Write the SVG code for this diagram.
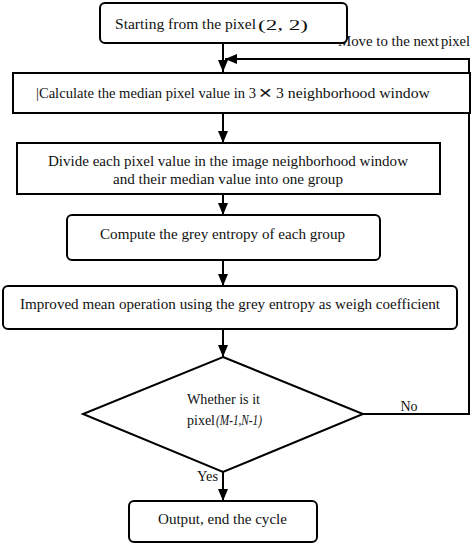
<svg xmlns="http://www.w3.org/2000/svg" width="474" height="544" viewBox="0 0 474 544">
<style>
.box{fill:#fff;stroke:#000;stroke-width:2}
.t{font-family:"Liberation Serif","Times New Roman",serif;font-size:14px;fill:#111}
.ln{fill:none;stroke:#000;stroke-width:2}
</style>
<defs>
<marker id="ah" viewBox="0 0 12 10" refX="12" refY="5" markerWidth="12" markerHeight="10" markerUnits="userSpaceOnUse" orient="auto">
<path d="M0,0 L12,5 L0,10 Z" fill="#000"/>
</marker>
</defs>
<rect width="474" height="544" fill="#fff"/>
<g id="connectors">
<line class="ln" x1="223" y1="43" x2="223" y2="72" marker-end="url(#ah)"/>
<polyline class="ln" points="363,414 469,414 469,59 225,59" marker-end="url(#ah)"/>
<line class="ln" x1="223" y1="113" x2="223" y2="143" marker-end="url(#ah)"/>
<line class="ln" x1="223" y1="194" x2="223" y2="215" marker-end="url(#ah)"/>
<line class="ln" x1="223" y1="260" x2="223" y2="286" marker-end="url(#ah)"/>
<line class="ln" x1="223" y1="329" x2="223" y2="357" marker-end="url(#ah)"/>
<line class="ln" x1="223" y1="472" x2="223" y2="501" marker-end="url(#ah)"/>
<text class="t" x="409" y="411" text-anchor="middle">No</text>
<text class="t" x="197" y="481" textLength="21" lengthAdjust="spacingAndGlyphs">Yes</text>
<text class="t" x="338" y="46" font-size="13" textLength="101" lengthAdjust="spacingAndGlyphs">Move to the next</text>
<text class="t" x="441" y="46" font-size="16" textLength="29" lengthAdjust="spacingAndGlyphs">pixel</text>
</g>
<g id="start">
<rect class="box" x="100" y="3" width="247" height="40" rx="5"/>
<text class="t" x="115" y="29" textLength="141" lengthAdjust="spacingAndGlyphs">Starting from the pixel</text>
<text class="t" x="258" y="30" font-size="20" textLength="50" lengthAdjust="spacingAndGlyphs">(2, 2)</text>
</g>
<g id="median">
<rect class="box" x="13" y="73" width="457" height="40"/>
<text class="t" x="36" y="98" textLength="220" lengthAdjust="spacingAndGlyphs">|Calculate the median pixel value in 3</text>
<text class="t" x="258" y="98" font-size="15" font-family="'DejaVu Sans',sans-serif" textLength="15" lengthAdjust="spacingAndGlyphs">✕</text>
<text class="t" x="276" y="98" textLength="154" lengthAdjust="spacingAndGlyphs">3 neighborhood window</text>
</g>
<g id="divide">
<rect class="box" x="17" y="143" width="423" height="51"/>
<text class="t" x="48" y="166" textLength="360" lengthAdjust="spacingAndGlyphs">Divide each pixel value in the image neighborhood window</text>
<text class="t" x="113" y="184" textLength="230" lengthAdjust="spacingAndGlyphs">and their median value into one group</text>
</g>
<g id="entropy">
<rect class="box" x="67" y="215" width="313" height="45" rx="5"/>
<text class="t" x="100" y="239" textLength="245" lengthAdjust="spacingAndGlyphs">Compute the grey entropy of each group</text>
</g>
<g id="mean">
<rect class="box" x="3" y="286" width="454" height="43" rx="5"/>
<text class="t" x="20" y="309" textLength="420" lengthAdjust="spacingAndGlyphs">Improved mean operation using the grey entropy as weigh coefficient</text>
</g>
<g id="decision">
<polygon class="box" points="223,357 363,414 223,472 83,414"/>
<text class="t" x="187" y="404" textLength="73" lengthAdjust="spacingAndGlyphs">Whether is it</text>
<text class="t" x="187" y="425" textLength="28" lengthAdjust="spacingAndGlyphs">pixel</text>
<text class="t" x="216" y="425" font-size="9" font-style="italic" textLength="46" lengthAdjust="spacingAndGlyphs">(M-1,N-1)</text>
</g>
<g id="output">
<rect class="box" x="129" y="501" width="188" height="41" rx="5"/>
<text class="t" x="158" y="524" textLength="129" lengthAdjust="spacingAndGlyphs">Output, end the cycle</text>
</g>
</svg>
